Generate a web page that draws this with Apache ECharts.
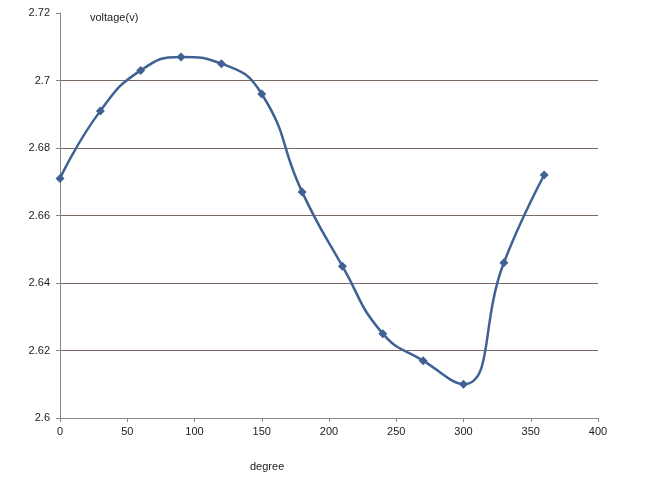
<!DOCTYPE html>
<html><head><meta charset="utf-8">
<script src="https://cdn.jsdelivr.net/npm/echarts@6/dist/echarts.min.js"></script>
<style>html,body{margin:0;background:#fff}#c{width:652px;height:486px}</style>
</head><body><div id="c"></div>
<script>
const degrees=[0,30,60,90,120,150,180,210,240,270,300,330,360];
const voltage=[2.671,2.691,2.703,2.707,2.705,2.696,2.667,2.645,2.625,2.617,2.610,2.646,2.672];
const chart=echarts.init(document.getElementById('c'));
const font='Liberation Sans, Arial, sans-serif';
chart.setOption({
  animation:false,
  backgroundColor:'#fff',
  grid:{left:60,right:54,top:13,bottom:68},
  xAxis:{type:'value',min:0,max:400,interval:50,
    axisLine:{lineStyle:{color:'#888'}},axisTick:{show:true,length:4,lineStyle:{color:'#888'}},
    splitLine:{show:false},
    axisLabel:{color:'#222',fontFamily:font,fontSize:11,margin:8}},
  yAxis:{type:'value',min:2.6,max:2.72,interval:0.02,
    axisLine:{show:true,lineStyle:{color:'#888'}},axisTick:{show:true,length:4,lineStyle:{color:'#888'}},
    splitLine:{lineStyle:{color:'#7a6a60',width:1}},
    axisLabel:{color:'#222',fontFamily:font,fontSize:11,margin:10,formatter:v=>String(+v.toFixed(2))}},
  graphic:[
    {type:'rect',shape:{x:61,y:11,width:540,height:4},style:{fill:'#fff'},z:10},
    {type:'text',left:90,top:12,z:11,style:{text:'voltage(v)',fill:'#222',font:'11px '+font}},
    {type:'text',left:250,top:461,style:{text:'degree',fill:'#222',font:'11px '+font}}
  ],
  series:[{type:'line',smooth:0.5,data:degrees.map((d,i)=>[d,voltage[i]]),
    symbol:'diamond',symbolSize:9,
    lineStyle:{color:'#3f6194',width:2.5},itemStyle:{color:'#3f6194'}}]
});
</script></body></html>
